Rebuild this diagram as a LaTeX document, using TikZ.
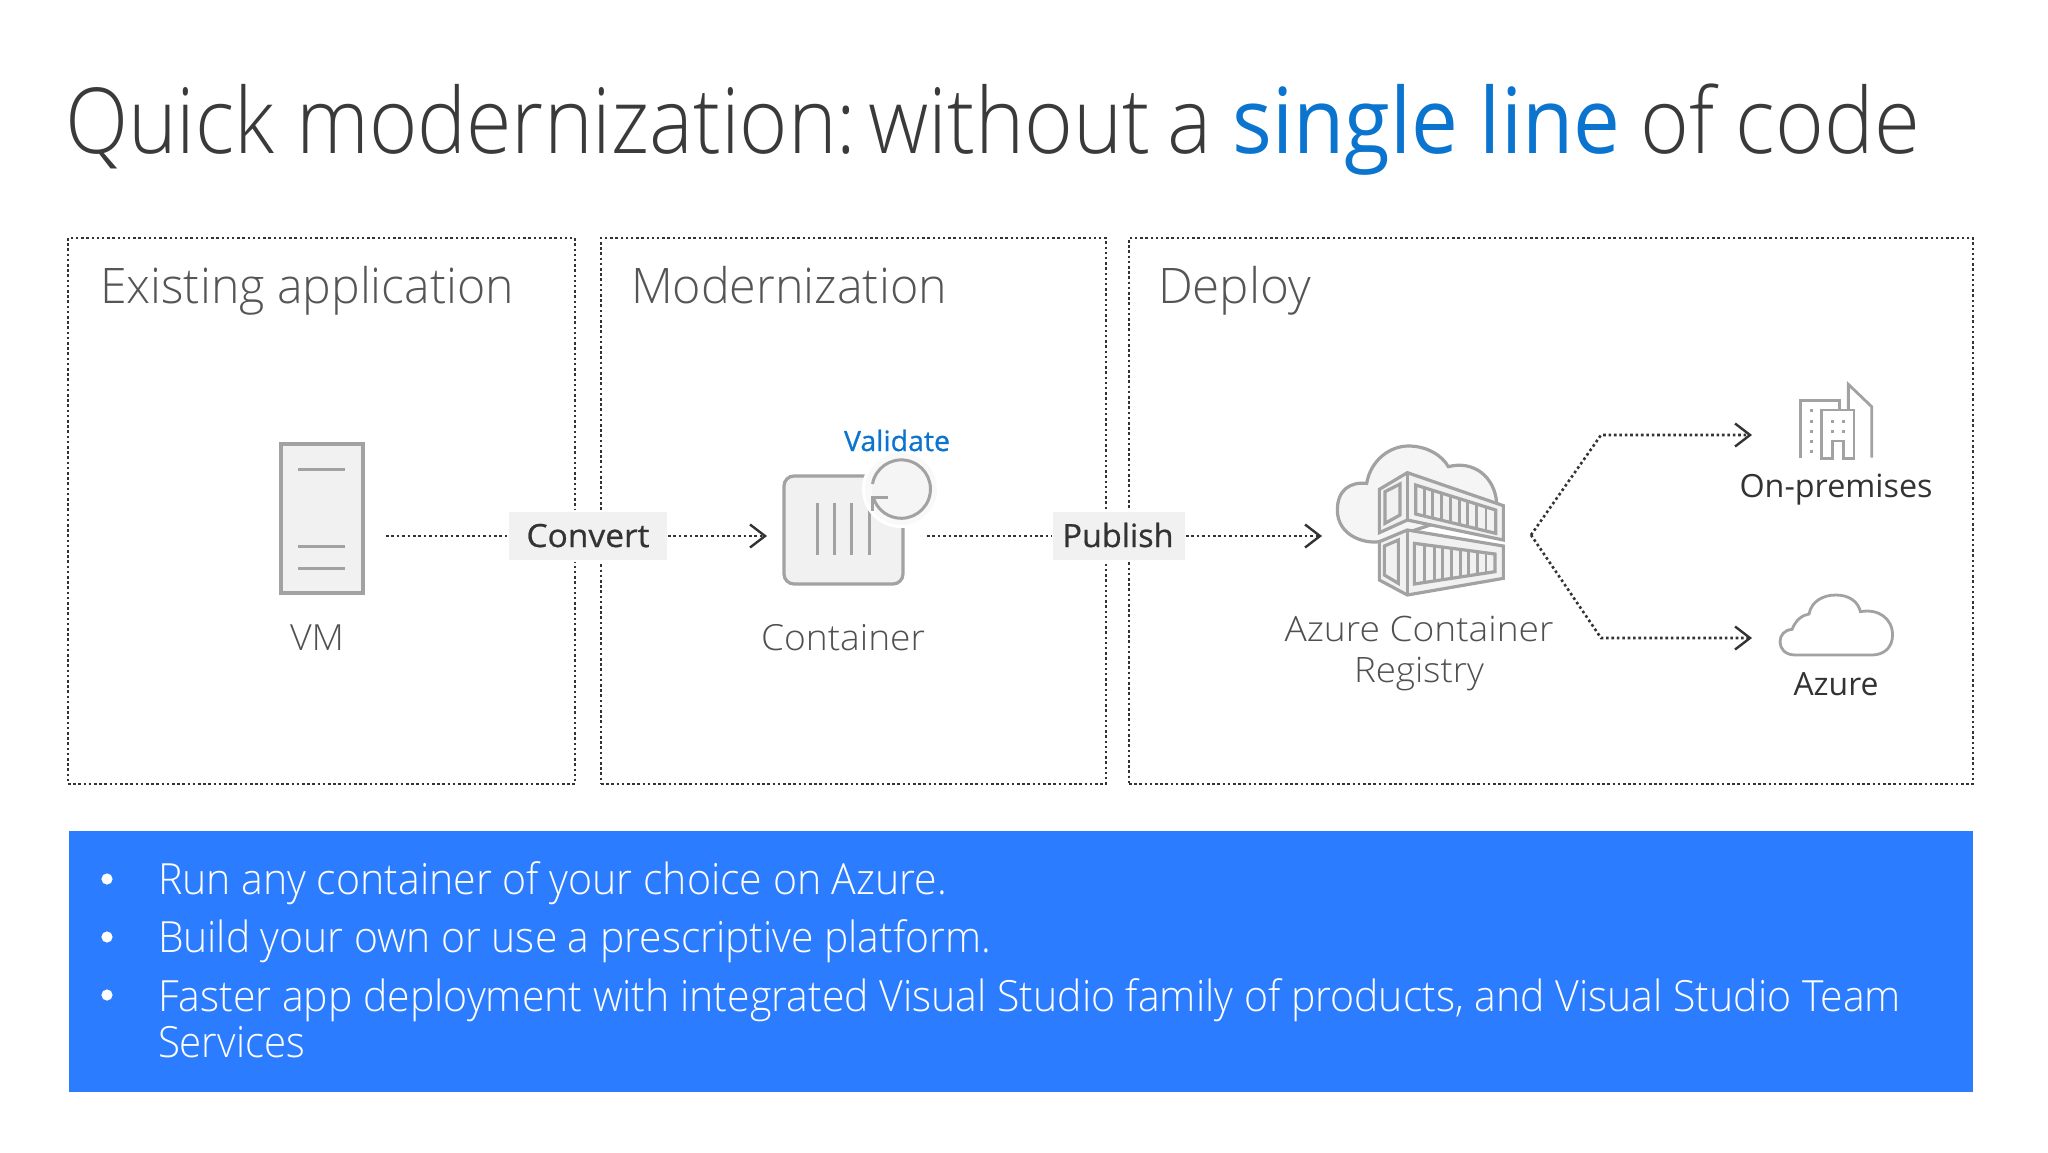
\documentclass[tikz,border=0pt]{standalone}
\usepackage{fontspec}
\usepackage{graphicx}
\usetikzlibrary{arrows.meta}
\setmainfont{Open Sans}[UprightFont=* Light, BoldFont=*]
\newfontfamily\semif{Open Sans}[FakeBold=0.7]
\newfontfamily\regf{Open Sans}
\definecolor{titlecol}{HTML}{3A3A3A}
\definecolor{headcol}{HTML}{555555}
\definecolor{labcol}{HTML}{505050}
\definecolor{darkcol}{HTML}{333333}
\definecolor{msblue}{HTML}{0B74CE}
\definecolor{barblue}{HTML}{2B7CFF}
\definecolor{icongray}{HTML}{A2A2A2}
\definecolor{iconfill}{HTML}{F1F1F1}
\newsavebox\fitbx
\newcommand{\fitw}[2]{\sbox\fitbx{#2}\pgfmathsetmacro\fitscale{(#1*0.5)/\wd\fitbx}\scalebox{\fitscale}[1]{\usebox\fitbx}}
\newcommand{\fsz}[1]{\fontsize{#1pt}{#1pt}\selectfont}
\tikzset{
  panel/.style={draw=darkcol,line width=1.25pt,dash pattern=on 1.25pt off 1.35pt,inner sep=0pt,outer sep=0pt},
  txt/.style={anchor=base west,inner sep=0pt,outer sep=0pt},
  ctxt/.style={anchor=base,inner sep=0pt,outer sep=0pt},
  flow/.style={draw=darkcol,line width=1.3pt,dash pattern=on 1.3pt off 1.4pt,-{Straight Barb[length=7.5pt,width=11.5pt,line width=1.2pt,color=darkcol]}},
  flowplain/.style={draw=darkcol,line width=1.3pt,dash pattern=on 1.3pt off 1.4pt},
  actbox/.style={fill=iconfill,draw=white,line width=1pt,minimum width=80pt,minimum height=25pt,inner sep=0pt,outer sep=0pt},
  icon/.style={draw=icongray,line width=1.6pt,line join=miter},
  iconb/.style={draw=icongray,line width=1.4pt},
  hole/.style={inner sep=0pt,outer sep=0pt},
}
\begin{document}
\begin{tikzpicture}[x=0.5pt,y=-0.5pt]
\useasboundingbox[fill=white] (0,0) rectangle (2048,1152);

% title
\node[txt,text=titlecol] (title) at (65,153) {\fitw{1855}{\fsz{45.5}\scalebox{0.99}[1]{Quick modernization:}\hspace{-5.5pt} without\hspace{-2.5pt} a\hspace{-0.5pt} \textcolor{msblue}{\regf single line}\hspace{-0.8pt} of code}};

% panels
\node[panel,minimum width=253.5pt,minimum height=273pt] (p1) at (321.5,511) {};
\node[panel,minimum width=252.5pt,minimum height=273pt] (p2) at (853.5,511) {};
\node[panel,minimum width=422pt,minimum height=273pt] (p3) at (1551,511) {};
\node[txt,text=headcol] (h1) at (100,303) {\fitw{414}{\fsz{24.5}Existing application}};
\node[txt,text=headcol] (h2) at (631,303) {\fitw{316}{\fsz{24.5}Modernization}};
\node[txt,text=headcol] (h3) at (1158,303) {\fitw{153}{\fsz{24.5}Deploy}};

% VM
\node[icon,fill=iconfill,minimum width=41pt,minimum height=74.5pt,inner sep=0pt,outer sep=0pt] (vm) at (322,518.5) {};
\draw[icon,line width=1.5pt] (298,469) -- (345,469) (298,546) -- (345,546) (298,568) -- (345,568);
\node[ctxt,text=labcol] (vmlab) at (317,650) {\fitw{54}{\fsz{18}VM}};

% Container
\node[icon,fill=iconfill,rounded corners=5pt,minimum width=59.5pt,minimum height=54pt,inner sep=0pt,outer sep=0pt] (cont) at (843.5,530) {};
\draw[icon,line width=1.5pt] (817,503) -- (817,555) (834,503) -- (834,555) (851,503) -- (851,555) (869,503) -- (869,555);
\fill[white] (901,489) circle (19.5pt);
\fill[iconfill!40] (901,489) circle (18pt);
\fill[iconfill!70] (901,489) circle (14.5pt);
\draw[icon,line width=1.5pt] (872.5,484) arc[start angle=170,end angle=-164,radius=14.6pt];
\draw[icon,line width=1.5pt] (888,497) -- (872,497) -- (872,511);
\node[ctxt,text=labcol] (contlab) at (843,650) {\fitw{164}{\fsz{18}Container}};
\node[ctxt,text=msblue] (validate) at (897,451) {\fitw{106}{\fsz{14}\semif Validate}};

% Azure Container Registry icon
\begin{scope}[shift={(1330,440)},x=0.166667pt,y=-0.166667pt]
\draw[icon,fill=iconfill!70] (148,305) .. controls (100,312) and (22,285) .. (22,210)
  .. controls (22,150) and (60,125) .. (110,130)
  .. controls (122,60) and (180,18) .. (235,18)
  .. controls (290,18) and (335,45) .. (355,80)
  .. controls (430,60) and (495,110) .. (500,190) -- cycle;
\draw[icon,fill=iconfill] (148,305) -- (232,270) -- (520,318) -- (520,415) -- (232,465) -- (148,420) -- cycle;
\draw[icon] (232,270) -- (232,465);
\draw[icon] (163,318) -- (205,300) -- (205,430) -- (163,405) -- cycle;
\draw[icon] (253,310) -- (495,342) -- (495,395) -- (253,432) -- cycle;
\foreach \sx in {283,313,338,365,392,415,442,468}{
  \pgfmathsetmacro\st{310+(\sx-253)*32/242}
  \pgfmathsetmacro\sb{432-(\sx-253)*37/242}
  \draw[icon,line width=1.3pt] (\sx,\st) -- (\sx,\sb);
}
\draw[icon,fill=iconfill] (148,148) -- (232,98) -- (520,197) -- (520,300) -- (232,240) -- (148,278) -- cycle;
\draw[icon] (232,98) -- (232,240);
\draw[icon] (165,155) -- (210,132) -- (210,225) -- (165,250) -- cycle;
\draw[icon] (257,135) -- (497,210) -- (497,280) -- (257,222) -- cycle;
\foreach \sx in {283,307,335,362,388,413,440,468}{
  \pgfmathsetmacro\st{135+(\sx-257)*75/240}
  \pgfmathsetmacro\sb{222+(\sx-257)*58/240}
  \draw[icon,line width=1.3pt] (\sx,\st) -- (\sx,\sb);
}
\end{scope}
\node[hole,minimum width=84pt,minimum height=74.5pt] (acr) at (1421,520.5) {};
\node[ctxt,text=labcol] (acrlab1) at (1419,641) {\fitw{269}{\fsz{17.5}Azure Container}};
\node[ctxt,text=labcol] (acrlab2) at (1419,682) {\fitw{130}{\fsz{17.5}Registry}};

% On-premises icon
\begin{scope}[shift={(1780,375)},x=0.166667pt,y=-0.166667pt]
\draw[iconb] (62,248) -- (62,76) -- (178,76) -- (178,105);
\draw[iconb] (125,250) -- (125,105) -- (222,105) -- (222,250) -- (190,250) -- (190,198) -- (158,198) -- (158,250) -- cycle;
\draw[iconb] (205,105) -- (205,28) -- (275,95) -- (275,248);
\foreach \dx/\dy in {93/105,93/138,93/168,93/200,93/230,158/138,190/138,158/170,190/170}
  \fill[icongray] (\dx-4,\dy-4) rectangle (\dx+5,\dy+5);
\end{scope}
\node[hole,minimum width=36pt,minimum height=38pt] (onprem) at (1836,421) {};
\node[ctxt,text=darkcol] (onlab) at (1836,497) {\fitw{193}{\fsz{16}\regf On-premises}};

% Azure cloud
\begin{scope}[shift={(1280,360)},x=0.223214pt,y=-0.166667pt]
\draw[icon,line width=1.4pt,fill=white] (1155,885) .. controls (1130,885) and (1120,865) .. (1120,845)
  .. controls (1120,825) and (1130,810) .. (1147,808)
  .. controls (1155,780) and (1170,765) .. (1185,762)
  .. controls (1190,725) and (1215,705) .. (1245,705)
  .. controls (1275,705) and (1295,725) .. (1300,755)
  .. controls (1340,745) and (1372,775) .. (1372,825)
  .. controls (1372,860) and (1355,885) .. (1325,885) -- cycle;
\end{scope}
\node[hole,minimum width=56pt,minimum height=30pt] (azure) at (1836,625) {};
\node[ctxt,text=darkcol] (azlab) at (1836,695) {\fitw{85}{\fsz{16}\regf Azure}};

% activity boxes and connectors
\node[actbox] (convert) at (588,536) {};
\node[ctxt,text=darkcol] (convlab) at (588,547) {\fitw{123}{\fsz{16}\semif Convert}};
\node[actbox,minimum width=67pt] (publish) at (1119,536) {};
\node[ctxt,text=darkcol] (publab) at (1118,547) {\fitw{111}{\fsz{16}\semif Publish}};

\draw[flowplain,shorten <=11.5pt] (vm.east |- convert.west) -- (convert.west);
\draw[flow,shorten >=8.5pt] (convert.east) -- (convert.east -| cont.west);
\draw[flowplain,shorten <=12pt] (cont.east |- publish.west) -- (publish.west);
\draw[flow,shorten >=7.5pt] (publish.east) -- (publish.east -| acr.west);

\coordinate (fork) at (1531,535);
\coordinate (forkup) at (1601,435);
\coordinate (forkdown) at (1601,638);
\draw[flow,shorten >=24pt] (fork) -- (forkup) -- (forkup -| onprem.west);
\draw[flow,shorten >=14pt] (fork) -- (forkdown) -- (forkdown -| azure.west);

% blue bar
\node[fill=barblue,minimum width=952pt,minimum height=130.5pt,inner sep=0pt,outer sep=0pt] (bar) at (1021,961.5) {};
\foreach \bn/\by in {b1/879,b2/937,b3/995}
  \fill[white] (107,\by) circle (2.8pt);
\node[txt,text=white] (l1) at (158,894) {\fitw{789}{\fsz{21.5}Run any container of your choice on Azure.}};
\node[txt,text=white] (l2) at (158,952) {\fitw{833}{\fsz{21.5}Build your own or use a prescriptive platform.}};
\node[txt,text=white] (l3) at (158,1011) {\fitw{1743}{\fsz{21.5}Faster app deployment with integrated Visual Studio family of products, and Visual Studio Team}};
\node[txt,text=white] (l4) at (158,1057) {\fitw{147}{\fsz{21.5}Services}};
\end{tikzpicture}
\end{document}
